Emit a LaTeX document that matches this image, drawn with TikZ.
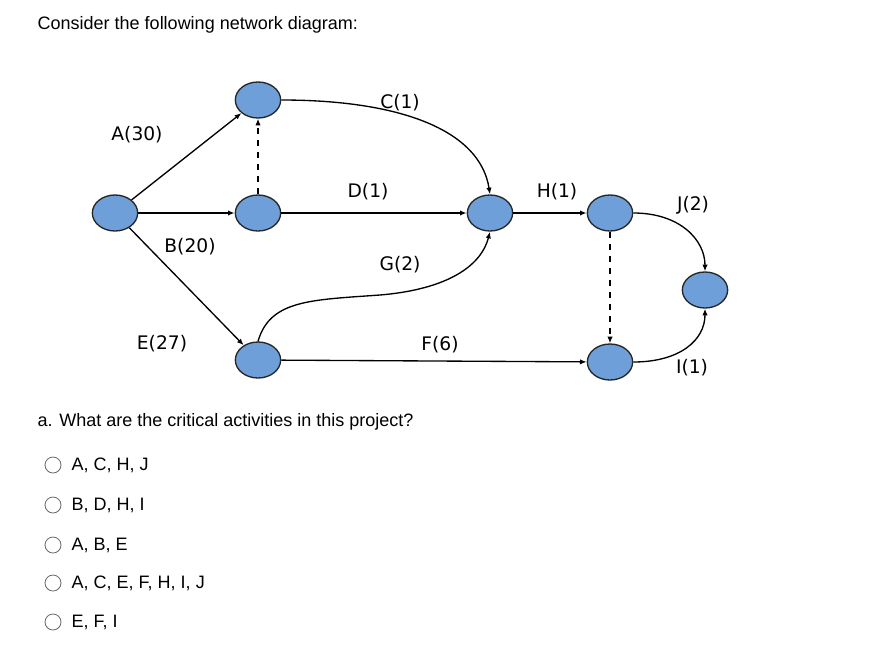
\documentclass[tikz,border=0pt]{standalone}
\usepackage{fontspec}
\setmainfont{Liberation Sans}
\newfontfamily\lblfont{DejaVu Sans}
\usetikzlibrary{shapes.geometric,arrows.meta}
\definecolor{nodeblue}{HTML}{6F9FD8}
\begin{document}
\begin{tikzpicture}[x=0.75pt,y=-0.75pt,
  ev/.style={ellipse,draw=black!85,line width=1pt,fill=nodeblue,minimum width=34pt,minimum height=27pt,inner sep=0pt},
  act/.style={line width=1pt,-{Latex[length=5pt,width=4pt]}},
  dsh/.style={act,dash pattern=on 5pt off 4pt},
  lbl/.style={font=\lblfont\fontsize{14}{16}\selectfont},
  q/.style={font=\fontsize{13.5}{16}\selectfont,anchor=west},
  radio/.style={circle,draw=black!60,line width=0.6pt,minimum size=12pt,inner sep=0pt}]
\useasboundingbox (0,0) rectangle (892,654);
\node[q] (title) at (33,25) {Consider the following network diagram:};
\node[ev] (n1) at (115,213) {};
\node[ev] (n2) at (258,100) {};
\node[ev] (n3) at (258,213) {};
\node[ev] (n4) at (258,360) {};
\node[ev] (n5) at (490,213) {};
\node[ev] (n6) at (610,213) {};
\node[ev] (n7) at (705,290) {};
\node[ev] (n8) at (610,362) {};
\draw[act] (n1) -- (n2);
\draw[act] (n1) -- (n3);
\draw[act] (n1) -- (n4);
\draw[dsh] (n3) -- (n2);
\draw[act] (n2.east) .. controls (400,100) and (480,130) .. (n5.north);
\draw[act] (n3) -- (n5);
\draw[act] (n4.north) .. controls (270,300) and (310,300) .. (380,295) .. controls (440,290) and (480,270) .. (n5.south);
\draw[act] (n4) -- (n8);
\draw[act] (n5) -- (n6);
\draw[dsh] (n6) -- (n8);
\draw[act] (n6.east) .. controls (680,213) and (705,240) .. (n7.north);
\draw[act] (n8.east) .. controls (680,362) and (705,340) .. (n7.south);
\node[lbl] (la) at (137,135) {A(30)};
\node[lbl] (lb) at (190,247) {B(20)};
\node[lbl] (le) at (162,344) {E(27)};
\node[lbl] (lc) at (400,103) {C(1)};
\node[lbl] (ld) at (368,192) {D(1)};
\node[lbl] (lg) at (400,265) {G(2)};
\node[lbl] (lf) at (440,345) {F(6)};
\node[lbl] (lh) at (557,192) {H(1)};
\node[lbl] (lj) at (693,205) {J(2)};
\node[lbl] (li) at (692,368) {I(1)};
\node[q] (qa) at (33,422) {a. What are the critical activities in this project?};
\foreach \y/\t [count=\i] in {465/{A, C, H, J},505/{B, D, H, I},545/{A, B, E},583/{A, C, E, F, H, I, J},622/{E, F, I}}{
  \node[radio] (r\i) at (53,\y) {};
  \node[q] (o\i) at (67,\y) {\t};
}
\end{tikzpicture}
\end{document}
